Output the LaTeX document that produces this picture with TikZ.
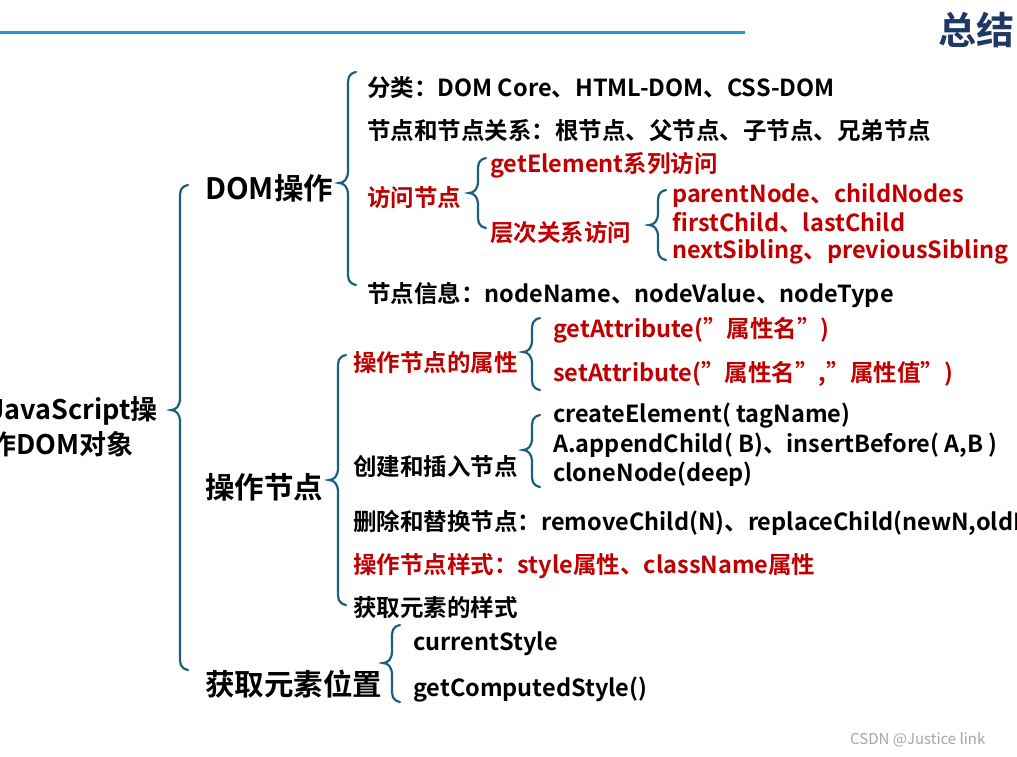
\documentclass[tikz,border=0pt]{standalone}
\usepackage{fontspec}
\setmainfont{Noto Sans CJK SC}[BoldFont={* Bold}]
\definecolor{brc}{HTML}{1B5E7E}
\definecolor{rd}{HTML}{C00000}
\definecolor{ln}{HTML}{1A9AD6}
\definecolor{tt}{HTML}{1F3864}
\newcommand\q{\symbol{34}}
\newcommand\mybrace[4]{% x, top, mid, bot (pixel units, y downward)
  \draw[brc,line width=2.2pt,line cap=round] (#1+8,-#2) .. controls (#1,-#2-2) and (#1,-#2-6) .. (#1,-#2-14)
    -- (#1,-#3+12) .. controls (#1,-#3+4) and (#1-4,-#3) .. (#1-9,-#3)
    .. controls (#1-4,-#3) and (#1,-#3-4) .. (#1,-#3-12)
    -- (#1,-#4+14) .. controls (#1,-#4+6) and (#1,-#4+2) .. (#1+8,-#4);}
\begin{document}
\begin{tikzpicture}[x=1pt,y=1pt,
  t/.style={anchor=west,inner sep=0pt,font=\bfseries\fontsize{23.5}{26}\selectfont},
  r/.style={t,text=rd},
  big/.style={anchor=west,inner sep=0pt,font=\bfseries\fontsize{29.5}{34}\selectfont}]
\useasboundingbox (0,0) rectangle (1017,-756);
\clip (0,0) rectangle (1017,-756);
\draw[ln,line width=3pt] (0,-32) -- (745,-32);
\node[anchor=east,inner sep=0pt,text=tt,font=\bfseries\fontsize{38}{42}\selectfont] (title) at (1015,-30) {总结};
\node[anchor=east,inner sep=0pt,align=left,font=\bfseries\fontsize{27}{35}\selectfont] (root) at (158,-427) {JavaScript操\\作DOM对象};
\mybrace{180}{185}{410}{670}
\node[big] (dom) at (205,-188) {DOM操作};
\node[big] (op) at (205,-487) {操作节点};
\node[big] (pos) at (205,-684) {获取元素位置};
\mybrace{348}{72}{183}{285}
\node[t] (a1) at (367,-88) {分类：DOM Core、HTML-DOM、CSS-DOM};
\node[t] (a2) at (367,-131) {节点和节点关系：根节点、父节点、子节点、兄弟节点};
\node[r] (a3) at (367,-198) {访问节点};
\mybrace{478}{158}{193}{228}
\node[r] (b1) at (490,-165) {getElement系列访问};
\node[r] (b2) at (490,-233) {层次关系访问};
\mybrace{658}{190}{225}{260}
\node[r] (c1) at (672,-195) {parentNode、childNodes};
\node[r] (c2) at (672,-223) {firstChild、lastChild};
\node[r] (c3) at (672,-252) {nextSibling、previousSibling};
\node[t] (a4) at (367,-295) {节点信息：nodeName、nodeValue、nodeType};
\mybrace{338}{355}{480}{605}
\node[r] (d1) at (353,-363) {操作节点的属性};
\mybrace{532}{318}{352}{390}
\node[r] (e1) at (553,-330) {getAttribute(\q{}属性名\q{})};
\node[r] (e2) at (553,-374) {setAttribute(\q{}属性名\q{},\q{}属性值\q{})};
\node[t] (d2) at (353,-467) {创建和插入节点};
\mybrace{532}{415}{450}{487}
\node[t] (f1) at (553,-416) {createElement( tagName)};
\node[t] (f2) at (553,-445) {A.appendChild( B)、insertBefore( A,B )};
\node[t] (f3) at (553,-474) {cloneNode(deep)};
\node[t] (d3) at (353,-523) {删除和替换节点：removeChild(N)、replaceChild(newN,oldN)};
\node[r] (d4) at (353,-566) {操作节点样式：style属性、className属性};
\node[t] (d5) at (353,-608) {获取元素的样式};
\mybrace{392}{625}{663}{702}
\node[t] (g1) at (413,-644) {currentStyle};
\node[t] (g2) at (413,-690) {getComputedStyle()};
\node[anchor=west,inner sep=0pt,text=gray!70,font=\fontsize{15}{18}\selectfont] (wm) at (850,-740) {CSDN @Justice link};
\end{tikzpicture}
\end{document}
